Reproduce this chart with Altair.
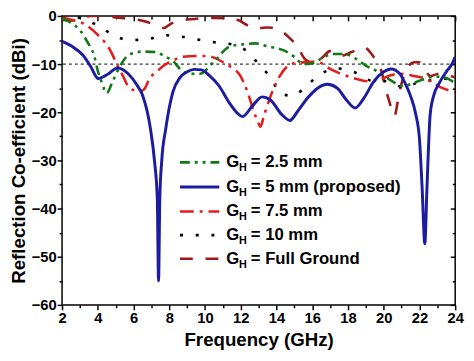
import altair as alt
import pandas as pd

# ---------------- data ----------------
freq_25 = [2.0, 2.4, 3.05, 3.4, 3.8, 4.0, 4.2, 4.5, 4.85, 5.25, 5.6, 6.0, 6.5, 7.2, 7.8, 8.2, 8.6,
           9.15, 9.7, 10.5, 11.4, 12.1, 12.8, 13.5, 14.5, 15.0, 15.5, 16.0, 16.5, 17.1, 17.8, 18.4,
           19.0, 19.7, 20.4, 21.1, 21.6, 22.2, 22.9, 23.4, 24.0]
s11_25 = [-0.5, -1.2, -3.2, -5.3, -8.3, -11.4, -13.6, -16.0, -13.4, -10.4, -8.5, -7.7, -7.4, -7.5,
          -8.5, -9.3, -11.0, -12.0, -12.0, -9.5, -6.3, -5.9, -5.7, -6.3, -7.3, -8.5, -10.0, -9.8,
          -8.9, -7.9, -7.9, -8.8, -10.3, -11.6, -13.4, -14.6, -14.0, -13.2, -12.6, -12.8, -14.0]

freq_5 = [2.0, 2.55, 3.2, 3.6, 4.03, 4.6, 5.1, 5.7, 6.2, 6.5, 6.95, 7.17, 7.33, 7.4, 7.47, 7.58,
          7.8, 8.2, 8.6, 9.0, 9.4, 9.8, 10.25, 10.8, 11.35, 11.9, 12.1, 12.65, 13.2, 13.65, 14.3,
          14.75, 15.2, 15.75, 16.3, 16.85, 17.4, 17.95, 18.4, 18.9, 19.45, 20.0, 20.4, 20.9, 21.2,
          21.5, 21.8, 22.0, 22.15, 22.3, 22.42, 22.6, 22.8, 23.1, 23.5, 23.85, 24.0]
s11_5 = [-5.3, -6.3, -8.3, -10.5, -13.0, -12.0, -10.8, -12.0, -14.4, -16.4, -23.5, -30.0, -38.0,
         -55.0, -38.0, -30.0, -23.5, -15.8, -12.8, -11.6, -11.1, -11.2, -12.4, -14.6, -18.0,
         -20.5, -20.9, -18.7, -16.8, -17.4, -20.5, -21.7, -19.7, -17.0, -15.0, -14.2, -15.0,
         -17.6, -19.1, -17.0, -13.6, -11.6, -11.0, -12.0, -14.0, -16.6, -20.5, -25.5, -35.7,
         -47.3, -35.7, -20.5, -16.5, -14.0, -11.6, -9.8, -8.5]

freq_75 = [2.0, 2.3, 3.3, 4.1, 4.4, 4.75, 5.0, 5.25, 5.4, 5.7, 6.1, 6.4, 6.6, 6.9, 7.35, 7.7, 8.2,
           8.7, 9.5, 10.1, 10.6, 11.1, 11.6, 11.9, 12.4, 12.7, 12.95, 13.1, 13.3, 13.8, 14.2, 14.6,
           15.0, 15.6, 16.0, 16.5, 17.0, 17.6, 18.2, 18.8, 19.3, 19.8, 20.4, 20.9, 21.6, 22.3,
           22.8, 23.3, 24.0]
s11_75 = [-0.3, -0.6, -1.8, -4.3, -5.5, -7.5, -9.5, -11.4, -12.4, -14.6, -15.5, -15.6, -15.2,
          -13.0, -11.4, -10.3, -9.3, -8.5, -8.3, -8.3, -8.8, -9.8, -11.0, -12.0, -16.0, -19.5,
          -21.9, -23.0, -20.7, -15.4, -12.4, -10.5, -9.8, -9.6, -9.5, -9.8, -11.0, -12.0, -12.8,
          -13.4, -13.6, -13.2, -12.3, -12.0, -12.4, -13.0, -14.0, -15.0, -15.8]

freq_10 = [2.0, 3.0, 3.9, 4.75, 5.7, 6.7, 7.7, 8.7, 9.6, 10.6, 11.6, 12.4, 13.0, 13.7, 14.2, 14.9,
           15.7, 16.5, 17.4, 18.3, 19.3, 20.2, 21.1, 21.8, 22.6, 23.3, 24.0]
s11_10 = [0.0, -0.4, -1.8, -3.7, -5.0, -4.9, -4.0, -4.3, -4.9, -5.5, -6.0, -7.5, -10.0, -13.0,
          -16.0, -16.6, -14.4, -12.0, -10.9, -11.6, -13.4, -13.6, -14.8, -14.0, -13.4, -13.0, -13.5]

freq_fg = [2.0, 2.5, 3.0, 3.6, 4.3, 5.0, 5.5, 6.1, 6.5, 6.95, 7.4, 7.7, 8.1, 8.6, 9.2, 9.8, 10.5,
           11.2, 11.8, 12.4, 12.9, 13.4, 13.9, 14.3, 14.65, 15.2, 15.6, 16.0, 16.5, 17.0, 17.6,
           18.2, 18.9, 19.3, 19.6, 19.9, 20.1, 20.3, 20.6, 20.8, 21.0, 21.3, 21.7, 22.0, 22.3,
           22.6, 23.1, 23.6, 24.0]
s11_fg = [-0.8, -1.0, -0.5, 0.0, 0.0, -0.3, -0.5, -0.7, -1.0, -1.5, -2.2, -2.5, -1.6, -0.9, -0.7,
          -0.5, -0.4, -0.5, -0.8, -2.0, -2.6, -2.4, -2.5, -3.2, -4.3, -6.5, -9.0, -9.6, -8.8,
          -7.3, -8.3, -7.5, -6.5, -7.8, -9.5, -11.8, -15.0, -17.6, -20.8, -17.5, -14.0, -10.8,
          -9.6, -9.6, -11.0, -12.5, -12.0, -12.3, -12.8]

threshold = [-10]

x_major = [2, 4, 6, 8, 10, 12, 14, 16, 18, 20, 22, 24]
x_minor = [3, 5, 7, 9, 11, 13, 15, 17, 19, 21, 23]
y_major = [0, -10, -20, -30, -40, -50, -60]
y_minor = [-5, -15, -25, -35, -45, -55]

legend_labels = ["= 2.5 mm", "= 5 mm (proposed)", "= 7.5 mm", "= 10 mm", "= Full Ground"]

# ---------------- styling ----------------
FONT = "Liberation Sans"
W, H = 400, 294
xs = alt.Scale(domain=[2, 24], nice=False, zero=False)
ys = alt.Scale(domain=[-60, 0], nice=False, zero=False)

GREEN, BLUE, RED, BLACK, DRED = "#0f7a14", "#1c1ca0", "#e41c1c", "#000000", "#a01818"
D_GREEN = [10, 5, 3, 5, 3, 5]
D_RED = [14, 6, 3, 6]
D_BLACK = [3, 13]
D_DRED = [13, 13]

series = [
    (freq_fg, s11_fg, DRED, D_DRED, 2.6),
    (freq_10, s11_10, BLACK, D_BLACK, 2.6),
    (freq_75, s11_75, RED, D_RED, 2.6),
    (freq_25, s11_25, GREEN, D_GREEN, 2.6),
    (freq_5, s11_5, BLUE, None, 3.0),
]
legend_style = [
    (GREEN, D_GREEN, 2.6),
    (BLUE, None, 3.0),
    (RED, D_RED, 2.6),
    (BLACK, D_BLACK, 2.6),
    (DRED, D_DRED, 2.6),
]

layers = []

# reference -10 dB line
layers.append(
    alt.Chart(pd.DataFrame({"v": threshold}))
    .mark_rule(color="black", strokeDash=[3, 3], strokeWidth=1)
    .encode(y=alt.Y("v:Q", scale=ys, axis=None))
)

for f, v, col, dash, sw in series:
    kw = dict(color=col, strokeWidth=sw, interpolate="monotone", clip=True)
    if dash:
        kw["strokeDash"] = dash
    layers.append(
        alt.Chart(pd.DataFrame({"f": f, "v": v}))
        .mark_line(**kw)
        .encode(
            x=alt.X("f:Q", scale=xs, axis=None),
            y=alt.Y("v:Q", scale=ys, axis=None),
        )
    )

axis_df = pd.DataFrame({"f": freq_5, "v": s11_5})


def axis_layer(xaxis, yaxis):
    return (
        alt.Chart(axis_df)
        .mark_point(opacity=0)
        .encode(
            x=alt.X("f:Q", scale=xs, axis=xaxis),
            y=alt.Y("v:Q", scale=ys, axis=yaxis),
        )
    )


common = dict(domain=False, grid=False, tickColor="black", tickWidth=1.5)
lab = dict(labelFont=FONT, labelFontSize=15, labelFontWeight="bold", labelColor="black")
tit = dict(titleFont=FONT, titleFontSize=19, titleFontWeight="bold", titleColor="black")

layers.append(axis_layer(
    alt.Axis(orient="bottom", values=x_major, tickSize=5, labelPadding=1, format="d",
             labelFlush=False, labelOverlap=False, title="Frequency (GHz)", titlePadding=5,
             **common, **lab, **tit),
    alt.Axis(orient="left", values=y_major, tickSize=5, labelPadding=1, format="d",
             labelOverlap=False, title="Reflection Co-efficient (dBi)", titlePadding=3,
             **common, **lab, **tit),
))
layers.append(axis_layer(
    alt.Axis(orient="bottom", values=x_minor, tickSize=3, labels=False, title="", **common),
    alt.Axis(orient="left", values=y_minor, tickSize=3, labels=False, title="", **common),
))
layers.append(axis_layer(
    alt.Axis(orient="bottom", values=x_major, tickSize=5, labels=False, title="", offset=-H, **common),
    alt.Axis(orient="left", values=y_major, tickSize=5, labels=False, title="", offset=-W, **common),
))
layers.append(axis_layer(
    alt.Axis(orient="bottom", values=x_minor, tickSize=3, labels=False, title="", offset=-H, **common),
    alt.Axis(orient="left", values=y_minor, tickSize=3, labels=False, title="", offset=-W, **common),
))

# manual legend (subscript H)
one = pd.DataFrame({"k": [0]})
row_y = [149, 174, 199, 223, 247]
for (col, dash, sw), label, yy in zip(legend_style, legend_labels, row_y):
    kw = dict(color=col, strokeWidth=sw)
    if dash:
        kw["strokeDash"] = dash
    layers.append(alt.Chart(one).mark_rule(**kw).encode(
        x=alt.value(120), x2=alt.value(160), y=alt.value(yy)))
    layers.append(alt.Chart(one).mark_text(
        text="G", align="left", baseline="middle", font=FONT, fontSize=17,
        fontWeight="bold", color="black").encode(x=alt.value(167), y=alt.value(yy)))
    layers.append(alt.Chart(one).mark_text(
        text="H", align="left", baseline="middle", font=FONT, fontSize=11,
        fontWeight="bold", color="black").encode(x=alt.value(180), y=alt.value(yy + 6)))
    layers.append(alt.Chart(one).mark_text(
        text=label, align="left", baseline="middle", font=FONT, fontSize=17,
        fontWeight="bold", color="black").encode(x=alt.value(192), y=alt.value(yy)))

chart = (
    alt.layer(*layers)
    .resolve_axis(x="independent", y="independent")
    .properties(
        width=W, height=H,
        padding={"left": 55, "top": 5, "right": 11, "bottom": 54},
        autosize=alt.AutoSizeParams(type="none"),
        background="white",
    )
    .configure_view(stroke="black", strokeWidth=1.5)
)

chart.save("out.html", embed_options={"renderer": "svg", "actions": False})
